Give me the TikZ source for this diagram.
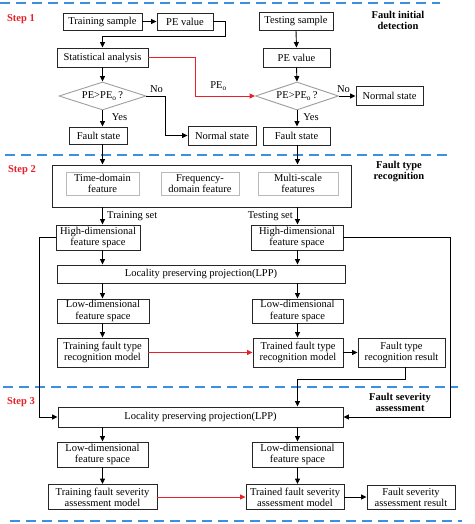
\documentclass[tikz,border=0pt]{standalone}
\usepackage{fontspec}
\setmainfont{Liberation Serif}
\usetikzlibrary{arrows.meta,shapes.geometric}
\definecolor{dashblue}{HTML}{3D8FE0}
\definecolor{stepred}{HTML}{E8202A}
\definecolor{linered}{HTML}{E8202A}
\begin{document}
\begin{tikzpicture}[x=1pt,y=-1pt,
  font=\fontsize{10.5}{11.2}\selectfont,
  box/.style={draw=black!85, line width=0.9pt, align=center, inner sep=0pt},
  gbox/.style={draw=gray!55, line width=0.8pt, align=center, inner sep=0pt},
  arr/.style={-{Triangle[length=5.5pt,width=5pt]}, line width=0.9pt},
  ln/.style={line width=0.9pt},
  rarr/.style={-{Triangle[length=5.5pt,width=5pt]}, draw=linered, line width=0.9pt},
  sep/.style={draw=dashblue, line width=1.4pt, dash pattern=on 10pt off 6pt},
  steplbl/.style={text=stepred, font=\fontsize{10.5}{12}\selectfont\bfseries},
  head/.style={font=\fontsize{10.5}{11}\selectfont\bfseries, align=center},
  lbl/.style={inner sep=1pt},
  dia/.style={draw=gray!75, line width=0.9pt, shape=diamond, aspect=3.1, inner sep=0pt, minimum width=87pt, minimum height=28pt}
]
\useasboundingbox (0,0) rectangle (474,524);
\fill[white] (0,0) rectangle (474,524);

% separators
\draw[sep] (0,3) -- (440,3);
\draw[sep] (5,155) -- (450,155);
\draw[sep] (3,387) -- (458,387);
\draw[sep] (10,521) -- (462,521);

% column coordinates
\coordinate (cl) at (102.5,0);
\coordinate (cr) at (297.5,0);

% step labels
\node[steplbl] (s1) at (21,19) {Step 1};
\node[steplbl] (s2) at (22,170) {Step 2};
\node[steplbl] (s3) at (21,402) {Step 3};

% headings
\node[head] (h1) at (398,20.5) {Fault initial\\detection};
\node[head] (h2) at (399,171.5) {Fault type\\recognition};
\node[head] (h3) at (400,402) {Fault severity\\assessment};

% ---- Step 1 ----
\node[box, minimum width=79, minimum height=17] (ts1) at (102.5,21.5) {Training sample};
\node[box, minimum width=56, minimum height=17] (pe1) at (185,21.5) {PE value};
\node[box, minimum width=91, minimum height=19] (stat) at (102.5,57.5) {Statistical analysis};
\node[dia] (d1) at (102.5,96) {PE>PE\textsubscript{o}\,?};
\node[box, minimum width=58, minimum height=17] (fs1) at (98.5,135.5) {Fault state};
\node[box, minimum width=68, minimum height=19] (ns1) at (222,135.5) {Normal state};

\node[box, minimum width=74, minimum height=18] (ts2) at (296,21) {Testing sample};
\node[box, minimum width=67, minimum height=19] (pe2) at (296.5,57.5) {PE value};
\node[dia, minimum width=83pt] (d2) at (297,96) {PE>PE\textsubscript{o}\,?};
\node[box, minimum width=67, minimum height=19] (ns2) at (389.5,96) {Normal state};
\node[box, minimum width=67, minimum height=18] (fs2) at (296.5,136) {Fault state};

\draw[arr] (ts1.east) -- (pe1.west);
\draw[arr] (pe1.east) -- ++(12,0) -- ++(0,14.5) -| (stat.north);
\draw[arr] (stat.south) -- (d1.north);
\draw[arr] (d1.east) -- ++(19,0) |- (ns1.west);
\node[lbl] (no1) at (156.5,89) {No};
\draw[arr] (d1.south) -- (d1.south |- fs1.north);
\node[lbl] (yes1) at (119.5,117) {Yes};
\draw[rarr] (stat.east) -- ++(47,0) |- (d2.west);
\node[lbl, text=black] (peo) at (218.5,86) {PE\textsubscript{o}};

\draw[arr] (ts2.south) -- (pe2.north);
\draw[arr] (pe2.south) -- (d2.north);
\draw[arr] (d2.east) -- (ns2.west);
\node[lbl] (no2) at (343.5,89) {No};
\draw[arr] (d2.south) -- (d2.south |- fs2.north);
\node[lbl] (yes2) at (311,117) {Yes};

% ---- Step 2 ----
\node[box, minimum width=299, minimum height=42] (big) at (201.5,186) {};
\node[gbox, minimum width=73, minimum height=23] (td) at (102.5,183.5) {Time-domain\\feature};
\node[gbox, minimum width=78, minimum height=23] (fd) at (200,183.5) {Frequency-\\domain feature};
\node[gbox, minimum width=80, minimum height=23] (ms) at (298,183.5) {Multi-scale\\features};

\draw[arr] (fs1.south -| cl) -- (big.north -| cl);
\draw[arr] (fs2.south -| cr) -- (big.north -| cr);

\node[box, minimum width=84, minimum height=25] (hd1) at (98,237.5) {High-dimensional\\feature space};
\node[box, minimum width=92, minimum height=25] (hd2) at (297,237.5) {High-dimensional\\feature space};
\draw[arr] (big.south -| cl) -- (hd1.north -| cl);
\node[lbl, anchor=west] (trs) at (106,216) {Training set};
\draw[arr] (big.south -| cr) -- (hd2.north -| cr);
\node[lbl, anchor=east] (tes) at (294,216) {Testing set};

\node[box, minimum width=288, minimum height=18] (lpp1) at (201,274) {Locality preserving projection(LPP)};
\draw[arr] (hd1.south -| cl) -- (lpp1.north -| cl);
\draw[arr] (hd2.south -| cr) -- (lpp1.north -| cr);

\node[box, minimum width=92, minimum height=24] (ld1) at (103,311) {Low-dimensional\\feature space};
\node[box, minimum width=91, minimum height=24] (ld2) at (297.5,311) {Low-dimensional\\feature space};
\draw[arr] (lpp1.south -| cl) -- (ld1.north -| cl);
\draw[arr] (lpp1.south -| cr) -- (ld2.north -| cr);

\node[box, minimum width=91, minimum height=29] (tr1) at (102.5,352.5) {Training fault type\\recognition model};
\node[box, minimum width=90, minimum height=29] (tr2) at (298,352.5) {Trained fault type\\recognition model};
\node[box, minimum width=87, minimum height=29] (res1) at (401.5,352.5) {Fault type\\recognition result};
\draw[arr] (ld1.south -| cl) -- (tr1.north -| cl);
\draw[arr] (ld2.south -| cr) -- (tr2.north -| cr);
\draw[rarr] (tr1.east) -- (tr2.west);
\draw[arr] (tr2.east) -- (res1.west);

% ---- Step 3 ----
\node[box, minimum width=285, minimum height=20] (lpp2) at (200.5,417) {Locality preserving projection(LPP)};
\draw[arr] (hd1.west) -- ++(-16,0) |- (lpp2.west);
\draw[arr] (hd2.east) -- ++(107,0) |- (lpp2.east);
\draw[arr] (res1.south) ++(3.5,0) -- ++(0,12) -| (lpp2.north -| cr);

\node[box, minimum width=91, minimum height=25] (ld3) at (102.5,454.5) {Low-dimensional\\feature space};
\node[box, minimum width=91, minimum height=25] (ld4) at (297.5,454.5) {Low-dimensional\\feature space};
\draw[arr] (lpp2.south -| cl) -- (ld3.north -| cl);
\draw[arr] (lpp2.south -| cr) -- (ld4.north -| cr);

\node[box, minimum width=109, minimum height=25] (sv1) at (102.5,497) {Training fault severity\\assessment model};
\node[box, minimum width=98, minimum height=25] (sv2) at (295,497) {Trained fault severity\\assessment model};
\node[box, minimum width=88, minimum height=24] (res2) at (411,497.5) {Fault severity\\assessment result};
\draw[arr] (ld3.south -| cl) -- (sv1.north -| cl);
\draw[arr] (ld4.south -| cr) -- (sv2.north -| cr);
\draw[rarr] (sv1.east) -- (sv2.west);
\draw[arr] (sv2.east) -- (sv2.east -| res2.west);
\end{tikzpicture}
\end{document}
